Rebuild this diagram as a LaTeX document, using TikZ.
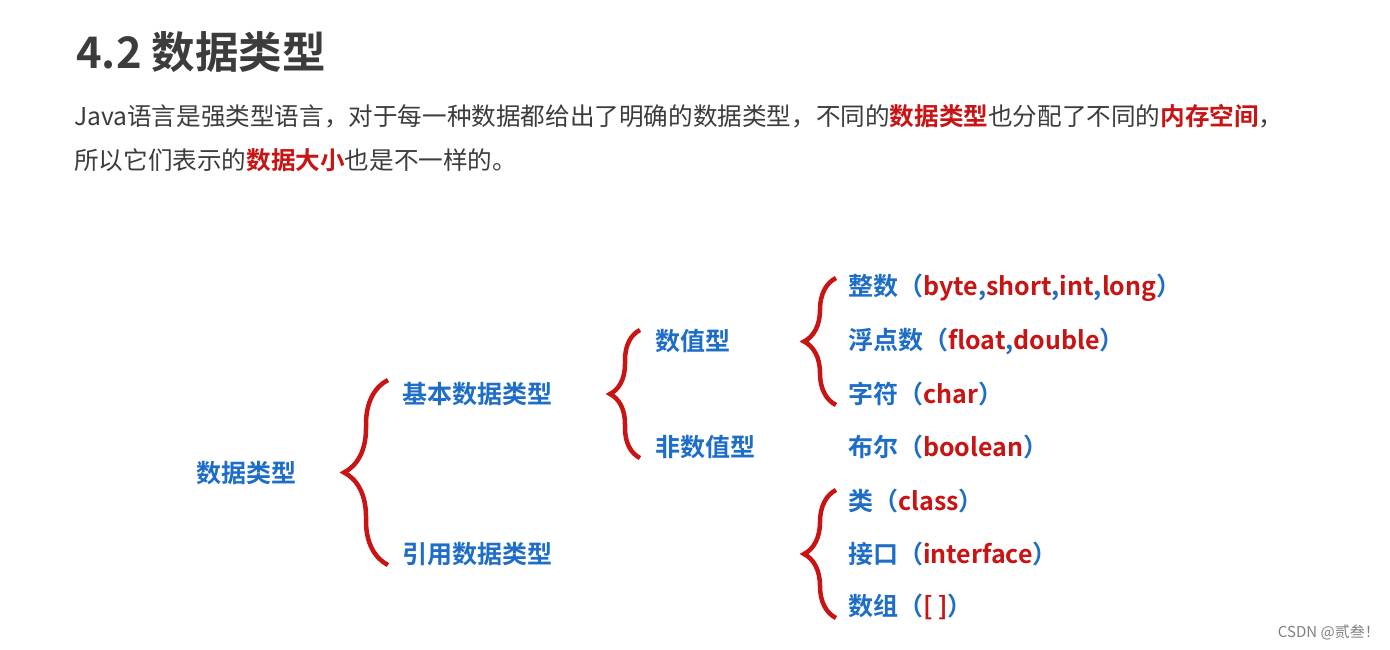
\documentclass[tikz,border=0pt]{standalone}
\usepackage{fontspec}
\setmainfont{Noto Sans CJK SC}[BoldFont={Noto Sans CJK SC Bold}]
\usetikzlibrary{decorations.pathreplacing}
\definecolor{tblue}{RGB}{30,110,200}
\definecolor{tred}{RGB}{200,20,20}
\definecolor{tgray}{RGB}{60,60,60}
\newcommand{\rd}[1]{\textcolor{tred}{#1}}
\tikzset{
 lbl/.style={anchor=west,inner sep=0pt,font=\fontsize{25}{27}\selectfont\bfseries,text=tblue},
 brc/.style={draw=tred,line width=4.5pt,decorate,decoration={brace,amplitude=#1}},
 para/.style={anchor=west,inner sep=0pt,font=\fontsize{24.6}{27}\selectfont,text=tgray}
}
\begin{document}
\begin{tikzpicture}[x=1pt,y=-1pt]
\useasboundingbox[fill=white] (0,0) rectangle (1390,650);
\node[anchor=west,inner sep=0pt,font=\fontsize{43.5}{47}\selectfont\bfseries,text=tgray] (title) at (76,52) {4.2 数据类型};
\node[para] (p1) at (74,116) {Java语言是强类型语言，对于每一种数据都给出了明确的数据类型，不同的\textbf{\rd{数据类型}}也分配了不同的\textbf{\rd{内存空间}}，};
\node[para] (p2) at (74,160) {所以它们表示的\textbf{\rd{数据大小}}也是不一样的。};
\node[lbl] (root) at (196,473) {数据类型};
\coordinate (b1a) at (388,565); \coordinate (b1b) at (388,380);
\draw[brc=44pt] (b1a) -- (b1b);
\node[lbl] (basic) at (402,394) {基本数据类型};
\node[lbl] (ref) at (402,554) {引用数据类型};
\coordinate (b2a) at (640,458); \coordinate (b2b) at (640,330);
\draw[brc=30pt] (b2a) -- (b2b);
\node[lbl] (num) at (655,341) {数值型};
\node[lbl] (nonnum) at (655,447) {非数值型};
\coordinate (b3a) at (836,405); \coordinate (b3b) at (836,278);
\draw[brc=32pt] (b3a) -- (b3b);
\node[lbl] (i1) at (848,288) {整数（\rd{byte},\rd{short},\rd{int},\rd{long}）};
\node[lbl] (i2) at (848,341) {浮点数（\rd{float},\rd{double}）};
\node[lbl] (i3) at (848,394) {字符（\rd{char}）};
\node[lbl] (i4) at (848,447) {布尔（\rd{boolean}）};
\coordinate (b4a) at (836,618); \coordinate (b4b) at (836,490);
\draw[brc=32pt] (b4a) -- (b4b);
\node[lbl] (r1) at (848,501) {类（\rd{class}）};
\node[lbl] (r2) at (848,554) {接口（\rd{interface}）};
\node[lbl] (r3) at (848,607) {数组（\rd{[ ]}）};
\node[anchor=east,inner sep=0pt,font=\fontsize{15}{17}\selectfont,text=gray] (wm) at (1380,632) {CSDN @贰叁！};
\end{tikzpicture}
\end{document}
